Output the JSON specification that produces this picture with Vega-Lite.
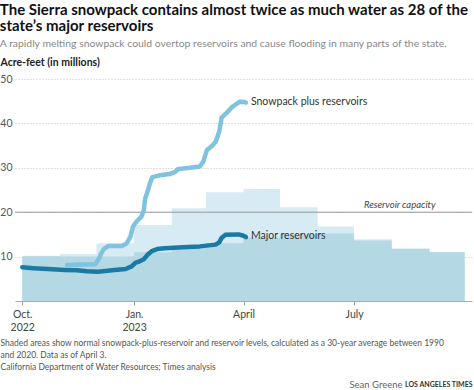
{
  "$schema": "https://vega.github.io/schema/vega-lite/v6.json",
  "width": 457,
  "height": 222,
  "autosize": "none",
  "padding": {"left": 15, "top": 79, "right": 2, "bottom": 89},
  "background": "white",
  "config": {"view": {"stroke": null}, "font": "Lato"},
  "title": {
    "text": ["The Sierra snowpack contains almost twice as much water as 28 of the", "state’s major reservoirs"],
    "subtitle": "A rapidly melting snowpack could overtop reservoirs and cause flooding in many parts of the state.",
    "anchor": "start",
    "frame": "bounds",
    "font": "Lato",
    "fontSize": 15,
    "fontWeight": "bold",
    "color": "#111",
    "lineHeight": 16,
    "subtitleFont": "Lato",
    "subtitleFontSize": 10.4,
    "subtitleColor": "#888",
    "subtitlePadding": 5,
    "offset": 8
  },
  "datasets": {
    "areas": [
      {"date": "2022-10-01", "snow": 10.2, "res": 10.1},
      {"date": "2022-11-01", "snow": 10.6, "res": 10.0},
      {"date": "2022-12-01", "snow": 13.0, "res": 10.0},
      {"date": "2023-01-01", "snow": 17.1, "res": 11.0},
      {"date": "2023-02-01", "snow": 20.9, "res": 12.2},
      {"date": "2023-03-01", "snow": 24.5, "res": 13.0},
      {"date": "2023-04-01", "snow": 25.2, "res": 14.3},
      {"date": "2023-05-01", "snow": 21.1, "res": 15.0},
      {"date": "2023-06-01", "snow": 16.8, "res": 15.2},
      {"date": "2023-07-01", "snow": 13.9, "res": 13.6},
      {"date": "2023-08-01", "snow": 11.9, "res": 11.7},
      {"date": "2023-09-01", "snow": 11.1, "res": 11.0},
      {"date": "2023-09-30", "snow": 11.1, "res": 11.0}
    ],
    "lines": [
      {"series": "Major reservoirs", "date": "2022-10-01", "value": 7.6},
      {"series": "Major reservoirs", "date": "2022-10-10", "value": 7.4},
      {"series": "Major reservoirs", "date": "2022-10-22", "value": 7.2},
      {"series": "Major reservoirs", "date": "2022-11-05", "value": 7.0},
      {"series": "Major reservoirs", "date": "2022-11-15", "value": 6.9},
      {"series": "Major reservoirs", "date": "2022-11-23", "value": 6.7},
      {"series": "Major reservoirs", "date": "2022-12-02", "value": 6.6},
      {"series": "Major reservoirs", "date": "2022-12-10", "value": 6.8},
      {"series": "Major reservoirs", "date": "2022-12-16", "value": 7.0},
      {"series": "Major reservoirs", "date": "2022-12-25", "value": 7.2},
      {"series": "Major reservoirs", "date": "2022-12-30", "value": 7.8},
      {"series": "Major reservoirs", "date": "2023-01-02", "value": 8.6},
      {"series": "Major reservoirs", "date": "2023-01-06", "value": 9.0},
      {"series": "Major reservoirs", "date": "2023-01-09", "value": 9.4},
      {"series": "Major reservoirs", "date": "2023-01-12", "value": 10.4},
      {"series": "Major reservoirs", "date": "2023-01-16", "value": 11.3},
      {"series": "Major reservoirs", "date": "2023-01-20", "value": 11.7},
      {"series": "Major reservoirs", "date": "2023-01-26", "value": 11.9},
      {"series": "Major reservoirs", "date": "2023-02-10", "value": 12.1},
      {"series": "Major reservoirs", "date": "2023-02-24", "value": 12.3},
      {"series": "Major reservoirs", "date": "2023-03-09", "value": 12.7},
      {"series": "Major reservoirs", "date": "2023-03-12", "value": 13.2},
      {"series": "Major reservoirs", "date": "2023-03-14", "value": 14.2},
      {"series": "Major reservoirs", "date": "2023-03-17", "value": 14.9},
      {"series": "Major reservoirs", "date": "2023-03-28", "value": 15.0},
      {"series": "Major reservoirs", "date": "2023-04-01", "value": 14.7},
      {"series": "Major reservoirs", "date": "2023-04-03", "value": 14.4},
      {"series": "Snowpack plus reservoirs", "date": "2022-11-07", "value": 8.1},
      {"series": "Snowpack plus reservoirs", "date": "2022-11-18", "value": 8.2},
      {"series": "Snowpack plus reservoirs", "date": "2022-11-30", "value": 8.3},
      {"series": "Snowpack plus reservoirs", "date": "2022-12-03", "value": 9.5},
      {"series": "Snowpack plus reservoirs", "date": "2022-12-05", "value": 10.8},
      {"series": "Snowpack plus reservoirs", "date": "2022-12-07", "value": 11.7},
      {"series": "Snowpack plus reservoirs", "date": "2022-12-11", "value": 12.4},
      {"series": "Snowpack plus reservoirs", "date": "2022-12-22", "value": 12.4},
      {"series": "Snowpack plus reservoirs", "date": "2022-12-26", "value": 13.0},
      {"series": "Snowpack plus reservoirs", "date": "2022-12-29", "value": 14.5},
      {"series": "Snowpack plus reservoirs", "date": "2022-12-31", "value": 16.7},
      {"series": "Snowpack plus reservoirs", "date": "2023-01-03", "value": 17.9},
      {"series": "Snowpack plus reservoirs", "date": "2023-01-07", "value": 19.0},
      {"series": "Snowpack plus reservoirs", "date": "2023-01-09", "value": 20.5},
      {"series": "Snowpack plus reservoirs", "date": "2023-01-10", "value": 23.0},
      {"series": "Snowpack plus reservoirs", "date": "2023-01-12", "value": 24.6},
      {"series": "Snowpack plus reservoirs", "date": "2023-01-14", "value": 26.5},
      {"series": "Snowpack plus reservoirs", "date": "2023-01-16", "value": 27.9},
      {"series": "Snowpack plus reservoirs", "date": "2023-01-22", "value": 28.3},
      {"series": "Snowpack plus reservoirs", "date": "2023-01-30", "value": 28.6},
      {"series": "Snowpack plus reservoirs", "date": "2023-02-04", "value": 29.1},
      {"series": "Snowpack plus reservoirs", "date": "2023-02-06", "value": 29.7},
      {"series": "Snowpack plus reservoirs", "date": "2023-02-16", "value": 30.0},
      {"series": "Snowpack plus reservoirs", "date": "2023-02-24", "value": 30.3},
      {"series": "Snowpack plus reservoirs", "date": "2023-02-27", "value": 31.4},
      {"series": "Snowpack plus reservoirs", "date": "2023-02-28", "value": 32.4},
      {"series": "Snowpack plus reservoirs", "date": "2023-03-02", "value": 34.0},
      {"series": "Snowpack plus reservoirs", "date": "2023-03-06", "value": 34.9},
      {"series": "Snowpack plus reservoirs", "date": "2023-03-09", "value": 35.8},
      {"series": "Snowpack plus reservoirs", "date": "2023-03-12", "value": 38.1},
      {"series": "Snowpack plus reservoirs", "date": "2023-03-14", "value": 41.3},
      {"series": "Snowpack plus reservoirs", "date": "2023-03-19", "value": 42.6},
      {"series": "Snowpack plus reservoirs", "date": "2023-03-23", "value": 43.8},
      {"series": "Snowpack plus reservoirs", "date": "2023-03-29", "value": 44.9},
      {"series": "Snowpack plus reservoirs", "date": "2023-04-02", "value": 44.8},
      {"series": "Snowpack plus reservoirs", "date": "2023-04-03", "value": 44.7}
    ],
    "labels": [
      {"date": "2023-04-03", "value": 44.7, "label": "Snowpack plus reservoirs"},
      {"date": "2023-04-03", "value": 14.4, "label": "Major reservoirs"}
    ],
    "capacity": [
      {"date": "2023-09-06", "value": 20, "label": "Reservoir capacity"}
    ]
  },
  "resolve": {"axis": {"x": "independent"}},
  "layer": [
    {
      "data": {"name": "areas"},
      "mark": {"type": "area", "interpolate": "step-after", "color": "#d6ebf3"},
      "encoding": {
        "x": {
          "field": "date", "type": "temporal",
          "scale": {"type": "utc", "domain": [{"year": 2022, "month": 9, "date": 25, "utc": true}, {"year": 2023, "month": 10, "date": 6, "utc": true}]},
          "axis": {
            "orient": "bottom",
            "values": [
              {"year": 2022, "month": 10, "date": 1, "utc": true},
              {"year": 2023, "month": 1, "date": 1, "utc": true},
              {"year": 2023, "month": 4, "date": 1, "utc": true},
              {"year": 2023, "month": 7, "date": 1, "utc": true}
            ],
            "labelExpr": "utcmonth(datum.value) == 9 ? ['Oct.', '2022'] : utcmonth(datum.value) == 0 ? ['Jan.', '2023'] : utcmonth(datum.value) == 3 ? 'April' : 'July'",
            "labelFlush": false,
            "labelOverlap": false,
            "labelBound": false,
            "labelFont": "Lato",
            "labelFontSize": 10.5,
            "labelColor": "#444",
            "labelPadding": 4,
            "labelLineHeight": 13,
            "tickSize": 4,
            "tickColor": "#999",
            "domainColor": "#aaa",
            "grid": false,
            "title": ["Shaded areas show normal snowpack-plus-reservoir and reservoir levels, calculated as a 30-year average between 1990", "and 2020. Data as of April 3.", "California Department of Water Resources; Times analysis"],
            "titleFont": "Lato",
            "titleFontSize": 8.5,
            "titleFontWeight": "normal",
            "titleColor": "#555",
            "titleAnchor": "start",
            "titleAlign": "left",
            "titleBaseline": "top",
            "titleX": -15,
            "titleY": 37,
            "titleLineHeight": 12
          }
        },
        "y": {
          "field": "snow", "type": "quantitative",
          "scale": {"domain": [0, 50], "nice": false},
          "axis": {
            "values": [10, 20, 30, 40, 50],
            "domain": false,
            "ticks": false,
            "labelPadding": 3,
            "labelFont": "Lato",
            "labelFontSize": 10.5,
            "labelColor": "#555",
            "gridColor": "#c4c4c4",
            "gridDash": [1, 2],
            "title": "Acre-feet (in millions)",
            "titleAngle": 0,
            "titleAlign": "left",
            "titleBaseline": "alphabetic",
            "titleX": -15,
            "titleY": -14,
            "titleFont": "Lato",
            "titleFontSize": 10.5,
            "titleFontWeight": "bold",
            "titleColor": "#222"
          }
        }
      }
    },
    {
      "data": {"name": "areas"},
      "mark": {"type": "area", "interpolate": "step-after", "color": "#b5d8e5"},
      "encoding": {
        "x": {"field": "date", "type": "temporal", "axis": null},
        "y": {"field": "res", "type": "quantitative"}
      }
    },
    {
      "data": {"name": "capacity"},
      "mark": {"type": "rule", "color": "#999", "strokeWidth": 1},
      "encoding": {"y": {"field": "value", "type": "quantitative"}}
    },
    {
      "data": {"name": "lines"},
      "mark": {"type": "line", "strokeWidth": 4.5, "strokeCap": "round", "strokeJoin": "round"},
      "encoding": {
        "x": {"field": "date", "type": "temporal", "axis": null},
        "y": {"field": "value", "type": "quantitative"},
        "color": {
          "field": "series", "type": "nominal", "legend": null,
          "scale": {"domain": ["Snowpack plus reservoirs", "Major reservoirs"], "range": ["#80c2e0", "#1b7aa5"]}
        }
      }
    },
    {
      "data": {"name": "labels"},
      "mark": {"type": "text", "align": "left", "baseline": "middle", "dx": 5, "dy": -1, "font": "Lato", "fontSize": 10.5, "color": "#333"},
      "encoding": {
        "x": {"field": "date", "type": "temporal", "axis": null},
        "y": {"field": "value", "type": "quantitative"},
        "text": {"field": "label"}
      }
    },
    {
      "data": {"name": "capacity"},
      "mark": {"type": "text", "align": "right", "baseline": "alphabetic", "dy": -4, "font": "Lato", "fontSize": 9.5, "fontStyle": "italic", "color": "#444"},
      "encoding": {
        "x": {"field": "date", "type": "temporal", "axis": null},
        "y": {"field": "value", "type": "quantitative"},
        "text": {"field": "label"}
      }
    },
    {
      "data": {"name": "capacity"},
      "mark": {"type": "point", "opacity": 0},
      "encoding": {
        "x": {
          "field": "date", "type": "temporal",
          "axis": {
            "orient": "bottom",
            "domain": false, "ticks": false, "labels": false, "grid": false,
            "title": "LOS ANGELES TIMES",
            "titleFont": "Lato", "titleFontSize": 7, "titleFontWeight": "bold", "titleColor": "#333",
            "titleAnchor": "end", "titleAlign": "right", "titleBaseline": "middle",
            "titleX": 457, "titleY": 83
          }
        }
      }
    },
    {
      "data": {"name": "capacity"},
      "mark": {"type": "point", "opacity": 0},
      "encoding": {
        "x": {
          "field": "date", "type": "temporal",
          "axis": {
            "orient": "bottom",
            "domain": false, "ticks": false, "labels": false, "grid": false,
            "title": "Sean Greene",
            "titleFont": "Lato", "titleFontSize": 9.5, "titleFontWeight": "normal", "titleColor": "#666",
            "titleAnchor": "end", "titleAlign": "right", "titleBaseline": "middle",
            "titleX": 387, "titleY": 83
          }
        }
      }
    }
  ]
}
